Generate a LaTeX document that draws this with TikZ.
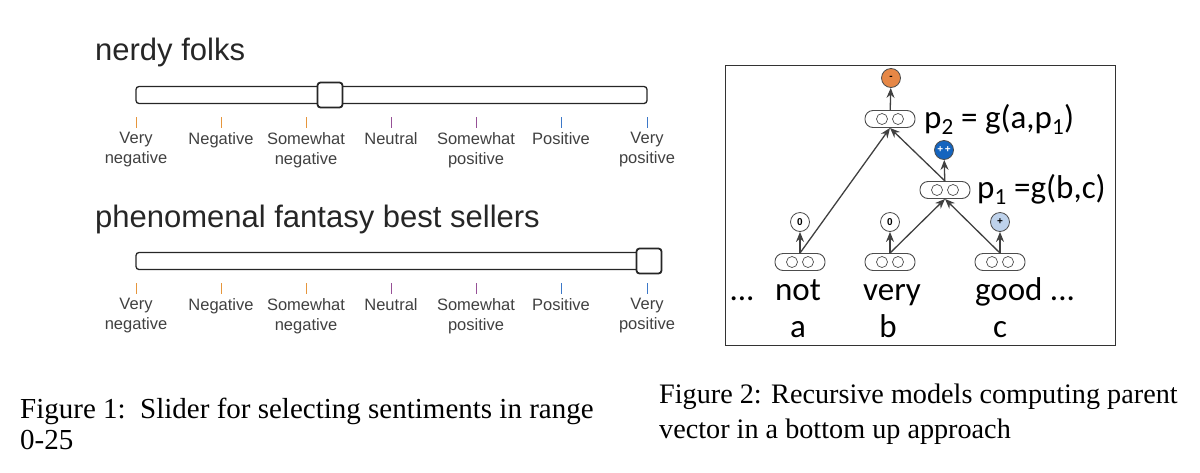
\documentclass[tikz,border=0pt]{standalone}
\usepackage{fontspec}
\setmainfont{Liberation Serif}
\setsansfont{Liberation Sans}
\newfontfamily\calib{Carlito}
\usetikzlibrary{arrows.meta}
\definecolor{tickA}{RGB}{230,150,60}
\definecolor{tickB}{RGB}{150,80,150}
\definecolor{tickC}{RGB}{60,120,200}
\definecolor{negc}{RGB}{230,135,70}
\definecolor{blc}{RGB}{20,100,190}
\definecolor{lbc}{RGB}{190,210,235}
\tikzset{
  bar/.style={draw=black!85, line width=1.3pt, rounded corners=3pt},
  handle/.style={draw=black!85, fill=white, line width=1.8pt, rounded corners=3pt},
  lab/.style={font=\sffamily\fontsize{16.5}{20}\selectfont, text=black!75, align=center},
  ttl/.style={font=\sffamily\fontsize{31}{34}\selectfont, text=black!85, anchor=base west, inner sep=0pt},
  captxt/.style={font=\fontsize{29}{30}\selectfont, anchor=base west, inner sep=0pt},
  pill/.style={draw=black!70, line width=0.9pt, rounded corners=8pt, minimum width=50pt, minimum height=17pt, inner sep=0pt},
  dot/.style={circle, draw=black!70, line width=0.7pt, minimum size=11pt, inner sep=0pt},
  sent/.style={circle, draw=black!70, line width=0.8pt, minimum size=19pt, inner sep=0pt, font=\sffamily\bfseries\fontsize{10}{10}\selectfont},
  arr/.style={-{Stealth[length=10pt,width=8pt]}, draw=black!75, line width=1.3pt},
  word/.style={font=\calib\fontsize{33}{34}\selectfont, anchor=base, inner sep=0pt},
}
\newcommand{\slider}[3]{%
  \node[bar, minimum width=511pt, minimum height=17pt, inner sep=0pt] (bar#3) at (391.5,#1) {};
  \node[handle, minimum width=25pt, minimum height=25pt, inner sep=0pt] (hd#3) at (#2,#1) {};
  \foreach \x/\c/\t [count=\i] in {136/tickA/{Very\\negative},221/tickA/{Negative},306/tickA/{Somewhat\\negative},391/tickB/{Neutral},476/tickB/{Somewhat\\positive},561/tickC/{Positive},647/tickC/{Very\\positive}}{
    \draw[\c, line width=0.9pt] (\x,#1+22) -- (\x,#1+33);
    \node[lab, anchor=north] (l#3\i) at (\x,#1+34) {\t};
  }}
\begin{document}
\begin{tikzpicture}[x=1pt,y=-1pt]
\useasboundingbox (0,0) rectangle (1200,472);
% left
\node[ttl] (t1) at (95,60) {nerdy folks};
\slider{95}{330}{a}
\node[ttl] (t2) at (95,227) {phenomenal fantasy best sellers};
\slider{261}{649}{b}
\node[captxt] (c1) at (20,418) {Figure 1:\enspace Slider for selecting sentiments in range};
\node[captxt] (c1b) at (20,449) {0-25};
% right
\node[draw=black!80, line width=1pt, minimum width=390pt, minimum height=280pt, inner sep=0pt] (box) at (920,205) {};
\node[captxt, font=\fontsize{28.2}{30}\selectfont] (c2) at (659,403) {Figure 2: Recursive models computing parent};
\node[captxt, font=\fontsize{28.2}{30}\selectfont] (c2b) at (659,438) {vector in a bottom up approach};
\foreach \n/\x/\y in {p2/890/119, p1/945/190, la/800/262, lb/890/262, lc/1000/262}{
  \node[pill] (\n) at (\x,\y) {};
  \node[dot] (\n l) at (\x-8,\y) {};
  \node[dot] (\n r) at (\x+8,\y) {};
}
\node[sent, fill=negc] (s2) at (891,78) {-};
\node[sent, fill=blc, text=white] (s1) at (944,150) {+\,+};
\node[sent, fill=white] (sa) at (800,222) {0};
\node[sent, fill=white] (sb) at (890,222) {0};
\node[sent, fill=lbc] (sc) at (1000,222) {+};
\draw[arr] (p2) -- (s2);
\draw[arr] (p1) -- (s1);
\draw[arr] (la) -- (sa);
\draw[arr] (lb) -- (sb);
\draw[arr] (lc) -- (sc);
\draw[arr] (la.north) -- (p2.south);
\draw[arr] (p1.north) -- (p2.south);
\draw[arr] (lb.north) -- (p1.south);
\draw[arr] (lc.north) -- (p1.south);
\node[word, anchor=base west] (e2) at (924,128) {p\textsubscript{2} = g(a,p\textsubscript{1})};
\node[word, anchor=base west] (e1) at (977,198) {p\textsubscript{1} =g(b,c)};
\node[word] (w0) at (742,300) {...};
\node[word] (wa) at (798,300) {not};
\node[word] (wb) at (892,300) {very};
\node[word] (wc) at (1025,300) {good ...};
\node[word] (xa) at (798,337) {a};
\node[word] (xb) at (888,337) {b};
\node[word] (xc) at (1000,337) {c};
\end{tikzpicture}
\end{document}
